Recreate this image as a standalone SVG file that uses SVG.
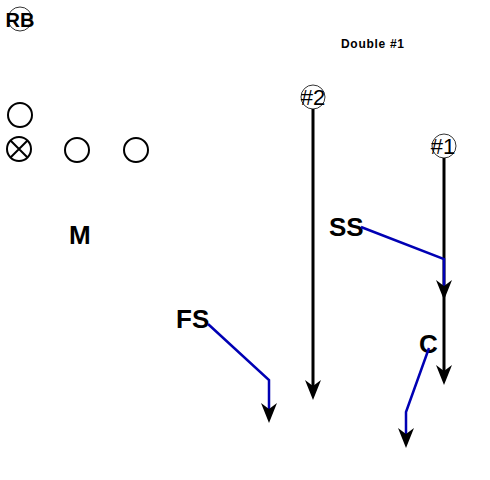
<svg xmlns="http://www.w3.org/2000/svg" width="490" height="480" viewBox="0 0 490 480">
<style>
.pl{fill:none;stroke:#000;stroke-width:2}
.thin{fill:#fff;stroke:#000;stroke-width:0.8}
.lbl{font-family:"Liberation Sans",Arial,sans-serif;font-weight:bold;font-size:26px;fill:#000}
.num{font-family:"Liberation Sans",Arial,sans-serif;font-size:22px;fill:#000;text-anchor:middle}
.blk{fill:none;stroke:#000;stroke-width:3}
.blu{fill:none;stroke:#0000b4;stroke-width:2.5}
</style>
<defs>
<marker id="ah" markerUnits="userSpaceOnUse" markerWidth="22" markerHeight="18" viewBox="-1 -9 22 18" refX="11" refY="0" orient="auto">
<path d="M20,0 L0,-8 L6,0 L0,8 Z" fill="#000"/>
</marker>
</defs>
<rect width="490" height="480" fill="#fff"/>
<g id="rb"><circle class="thin" cx="20" cy="19" r="12"/><text x="20" y="27" font-family="Liberation Sans,Arial,sans-serif" font-weight="bold" font-size="20" text-anchor="middle">RB</text></g>
<g id="p1"><circle class="pl" cx="20" cy="115" r="12"/></g>
<g id="p2"><circle class="pl" cx="19" cy="149" r="12"/><path class="pl" d="M10.5,140.5 L27.5,157.5 M27.5,140.5 L10.5,157.5" stroke-width="1"/></g>
<g id="p3"><circle class="pl" cx="77" cy="150" r="12"/></g>
<g id="p4"><circle class="pl" cx="136" cy="150" r="12"/></g>
<g id="title"><text x="341" y="48" font-family="Liberation Sans,Arial,sans-serif" font-weight="bold" font-size="12" letter-spacing="0.7">Double #1</text></g>
<g id="m"><text class="lbl" x="69" y="244">M</text></g>
<g id="ss"><text class="lbl" x="329" y="236">SS</text></g>
<g id="fs"><text class="lbl" x="176" y="328">FS</text></g>
<g id="c"><text class="lbl" x="419" y="353">C</text></g>
<g id="connectors">
<line class="blk" x1="313" y1="109" x2="313" y2="391" marker-end="url(#ah)"/>
<line class="blk" x1="444" y1="158" x2="444" y2="376" marker-end="url(#ah)"/>
<polyline class="blu" points="361,227 444,259 444,291" marker-end="url(#ah)"/>
<polyline class="blu" points="208,324 269,380 269,414" marker-end="url(#ah)"/>
<polyline class="blu" points="429,348 406,412 406,439" marker-end="url(#ah)"/>
</g>
<g id="n2"><circle class="thin" cx="313" cy="97" r="12"/><text class="num" x="313" y="105">#2</text></g>
<g id="n1"><circle class="thin" cx="444" cy="146" r="12"/><text class="num" x="443" y="154">#1</text></g>
</svg>
